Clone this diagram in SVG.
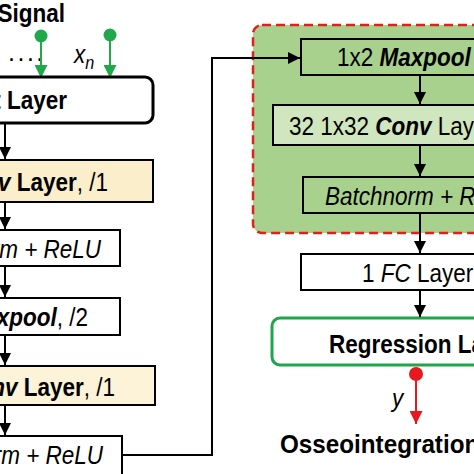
<svg xmlns="http://www.w3.org/2000/svg" width="474" height="474" viewBox="0 0 474 474">
<defs>
<marker id="ah" viewBox="0 0 12 12" refX="12" refY="6" markerWidth="12" markerHeight="12" markerUnits="userSpaceOnUse" orient="auto"><path d="M0,0 L12,6 L0,12 Z" fill="#000"/></marker>
<marker id="ahg" viewBox="0 0 12 12" refX="12" refY="6" markerWidth="13" markerHeight="13" markerUnits="userSpaceOnUse" orient="auto"><path d="M0,0 L12,6 L0,12 Z" fill="#21A84A"/></marker>
<marker id="ahr" viewBox="0 0 12 12" refX="12" refY="6" markerWidth="13" markerHeight="13" markerUnits="userSpaceOnUse" orient="auto"><path d="M0,0 L12,6 L0,12 Z" fill="#E8191E"/></marker>
</defs>
<style>
text{font-family:"Liberation Sans",Arial,sans-serif;font-size:25px;fill:#000}
.b{font-weight:bold}
.i{font-style:italic}
.bi{font-weight:bold;font-style:italic}
.e{text-anchor:end}
.box{stroke:#000;stroke-width:2}
.c{fill:none;stroke:#000;stroke-width:2;marker-end:url(#ah)}
</style>
<rect width="474" height="474" fill="#fff"/>

<g id="group">
<rect x="253" y="25" width="240" height="208" rx="9" fill="#A9D18E" stroke="#E0201B" stroke-width="2.5" stroke-dasharray="9 5"/>
</g>

<g id="signal">
<text transform="translate(65,22) scale(0.9,1)" class="b e" font-size="26">Signal</text>
<text x="8" y="61" letter-spacing="2.5">....</text>
<text transform="translate(74,63) scale(0.9,1)" class="i">x<tspan font-size="18" dy="6">n</tspan></text>
</g>

<g id="inputs">
<circle cx="41" cy="36" r="6.5" fill="#21A84A"/>
<line x1="41" y1="36" x2="41" y2="78" stroke="#21A84A" stroke-width="2" marker-end="url(#ahg)"/>
<circle cx="110" cy="35" r="6.5" fill="#21A84A"/>
<line x1="110" y1="35" x2="110" y2="78" stroke="#21A84A" stroke-width="2" marker-end="url(#ahg)"/>
</g>

<g id="input-layer">
<rect x="-20" y="77" width="173" height="46" rx="8" fill="#fff" stroke="#000" stroke-width="3"/>
<text transform="translate(67,109) scale(0.9,1)" class="b e">Input Layer</text>
</g>

<g id="conv1">
<rect x="-5" y="160" width="158" height="42" class="box" fill="#FBEFCB"/>
<text transform="translate(108,191) scale(0.9,1)" class="e"><tspan class="bi">Conv</tspan><tspan class="b"> Layer</tspan>,  /1</text>
</g>

<g id="bn1">
<rect x="-5" y="230" width="125" height="36" class="box" fill="#fff"/>
<text transform="translate(101,258) scale(0.9,1)" class="i e">Batchnorm + ReLU</text>
</g>

<g id="maxpool1">
<rect x="-5" y="298" width="125" height="37" class="box" fill="#fff"/>
<text transform="translate(88,326) scale(0.9,1)" class="e"><tspan class="bi">Maxpool</tspan>, /2</text>
</g>

<g id="conv2">
<rect x="-5" y="366" width="160" height="39" class="box" fill="#FCF3D8"/>
<text transform="translate(115,396) scale(0.9,1)" class="e"><tspan class="bi">Conv</tspan><tspan class="b"> Layer</tspan>,  /1</text>
</g>

<g id="bn2">
<rect x="-5" y="436" width="127" height="45" class="box" fill="#fff"/>
<text transform="translate(103,464) scale(0.9,1)" class="i e">Batchnorm + ReLU</text>
</g>

<g id="maxpool2">
<rect x="301" y="39" width="200" height="36" class="box" fill="#A9D18E"/>
<text transform="translate(337,66) scale(0.9,1)">1x2 <tspan class="bi">Maxpool</tspan></text>
</g>

<g id="conv3">
<rect x="273" y="105" width="230" height="40" class="box" fill="#D0E6BF"/>
<text transform="translate(289,135) scale(0.9,1)">32 1x32 <tspan class="bi">Conv</tspan> Layer</text>
</g>

<g id="bn3">
<rect x="303" y="177" width="200" height="36" class="box" fill="#A9D18E"/>
<text transform="translate(325,205) scale(0.9,1)" class="i">Batchnorm + ReLU</text>
</g>

<g id="fc">
<rect x="301" y="254" width="200" height="36" class="box" fill="#fff"/>
<text transform="translate(362,282) scale(0.9,1)">1 <tspan class="i">FC</tspan> Layer</text>
</g>

<g id="regression">
<rect x="272" y="318" width="230" height="47" rx="8" fill="#fff" stroke="#1FA64B" stroke-width="3"/>
<text transform="translate(329,353) scale(0.9,1)" class="b">Regression  Layer</text>
</g>

<g id="output">
<circle cx="416" cy="374" r="7" fill="#E8191E"/>
<line x1="416" y1="374" x2="416" y2="424" stroke="#E8191E" stroke-width="2" marker-end="url(#ahr)"/>
<text transform="translate(392,407) scale(0.9,1)" class="i">y</text>
<text transform="translate(280,453) scale(0.97,1)" class="b" font-size="28">Osseointegration</text>
</g>

<g id="connectors">
<line x1="5" y1="123" x2="5" y2="159" class="c"/>
<line x1="5" y1="202" x2="5" y2="229" class="c"/>
<line x1="5" y1="266" x2="5" y2="297" class="c"/>
<line x1="5" y1="335" x2="5" y2="365" class="c"/>
<line x1="5" y1="405" x2="5" y2="435" class="c"/>
<polyline points="122,455 212,455 212,58 300,58" class="c"/>
<line x1="420" y1="75" x2="420" y2="104" class="c"/>
<line x1="420" y1="145" x2="420" y2="176" class="c"/>
<line x1="420" y1="213" x2="420" y2="253" class="c"/>
<line x1="420" y1="290" x2="420" y2="317" class="c"/>
</g>
</svg>
